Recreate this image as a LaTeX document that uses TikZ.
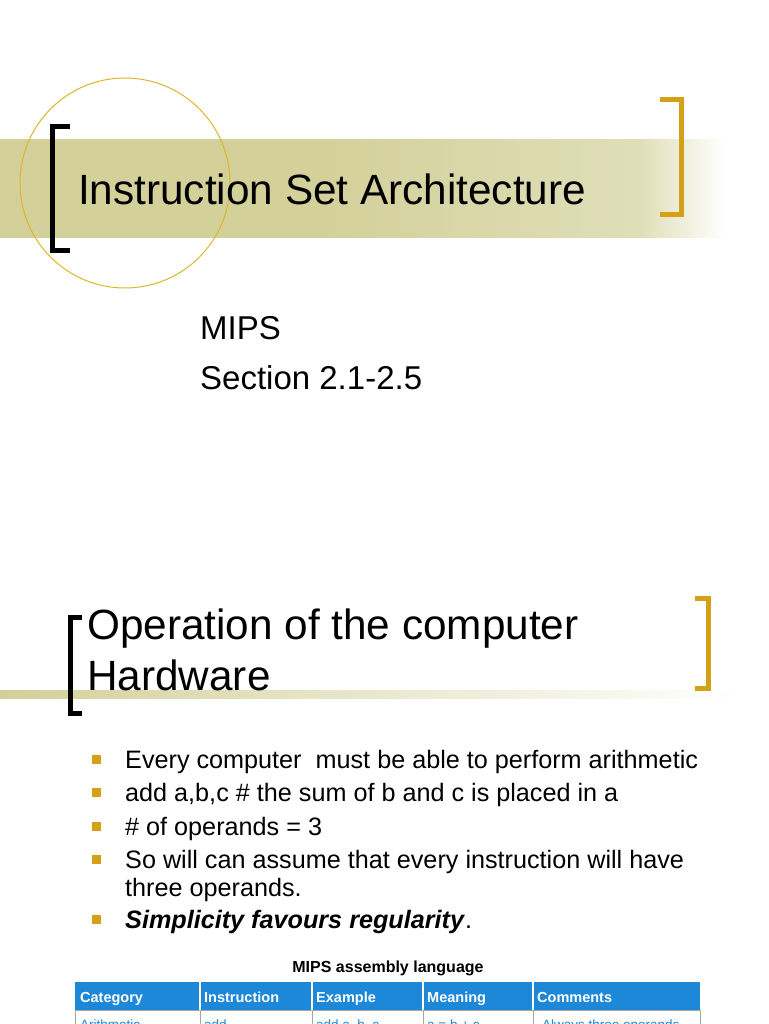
\documentclass[tikz,border=0pt]{standalone}
\usepackage{fontspec}
\setmainfont{Liberation Sans}
\definecolor{olive}{HTML}{D3D09A}
\definecolor{gold}{HTML}{D4A017}
\definecolor{ring}{HTML}{DDB72A}
\definecolor{tblue}{HTML}{1E88D8}
\usetikzlibrary{calc}
\begin{document}
\begin{tikzpicture}[x=1pt,y=-1pt,
  lbr/.style={line width=5pt},
  rbr/.style={line width=5pt,draw=gold},
  bul/.style={anchor=base west,font=\fontsize{25.2}{28}\selectfont,text=black},
  sq/.style={fill=gold,minimum size=9pt,inner sep=0pt},
  hd/.style={font=\bfseries\fontsize{14.5}{16}\selectfont,text=white,anchor=base west,inner sep=0},
  cell/.style={font=\fontsize{13.5}{15}\selectfont,text=tblue,anchor=base west,inner sep=0}]
\useasboundingbox (0,0) rectangle (768,1024);
\fill[white] (0,0) rectangle (768,1024);
% slide 1
\shade[left color=olive,right color=olive!70,middle color=olive] (0,140) rectangle (640,237);
\shade[left color=olive!70,right color=white] (640,140) rectangle (725,237);
\draw[ring,line width=1pt] (125,183) circle (105);
\draw[lbr] (70,127) -- (52,127) -- (52,250) -- (70,250);
\draw[rbr] (660,100) -- (681,100) -- (681,215) -- (660,215);
\node[anchor=base west,font=\fontsize{42.3}{48}\selectfont,inner sep=0] (t1) at (78,205) {Instruction Set Architecture};
\node[anchor=base west,font=\fontsize{33}{36}\selectfont,inner sep=0] (m) at (200,339) {MIPS};
\node[anchor=base west,font=\fontsize{33}{36}\selectfont,inner sep=0] (s) at (200,389) {Section 2.1-2.5};
% slide 2
\shade[left color=olive,right color=white] (0,690) rectangle (740,698);
\draw[lbr] (82,617) -- (70,617) -- (70,713) -- (82,713);
\draw[rbr] (695,598) -- (708,598) -- (708,688) -- (695,688);
\node[anchor=base west,font=\fontsize{42.3}{46}\selectfont,inner sep=0] (t2) at (87,639) {Operation of the computer};
\node[anchor=base west,font=\fontsize{42.3}{46}\selectfont,inner sep=0] (t3) at (87,690) {Hardware};
\foreach \y/\t in {768/{Every computer\ \ must be able to perform arithmetic},801/{add a,b,c \# the sum of b and c is placed in a},835/{\# of operands = 3},868/{So will can assume that every instruction will have},928/{\textbf{\textit{Simplicity favours regularity}}.}}{
  \node[bul,inner sep=0] at (125,\y) {\t};}
\node[bul,inner sep=0] at (125,896) {three operands.};
\foreach \y in {759,792,826,859,919} \node[sq] at (96,\y) {};
% table
\node[font=\bfseries\fontsize{16}{18}\selectfont] (tt) at (388,968) {MIPS assembly language};
\fill[tblue] (75,982) rectangle (700,1010);
\draw[white,line width=1.5pt] (200,982) -- (200,1010) (312,982) -- (312,1010) (423,982) -- (423,1010) (533,982) -- (533,1010);
\draw[gray!70,line width=1pt] (75,1010) -- (75,1024) (200,1010) -- (200,1024) (312,1010) -- (312,1024) (423,1010) -- (423,1024) (533,1010) -- (533,1024) (700,1010) -- (700,1024) (75,1010) -- (700,1010);
\node[hd] at (80,1002) {Category};
\node[hd] at (204,1002) {Instruction};
\node[hd] at (316,1002) {Example};
\node[hd] at (427,1002) {Meaning};
\node[hd] at (537,1002) {Comments};
\node[cell] at (80,1029) {Arithmetic};
\node[cell] at (204,1029) {add};
\node[cell] at (316,1029) {add a, b, c};
\node[cell] at (427,1029) {a = b + c};
\node[cell] at (542,1029) {Always three operands};
\end{tikzpicture}
\end{document}
